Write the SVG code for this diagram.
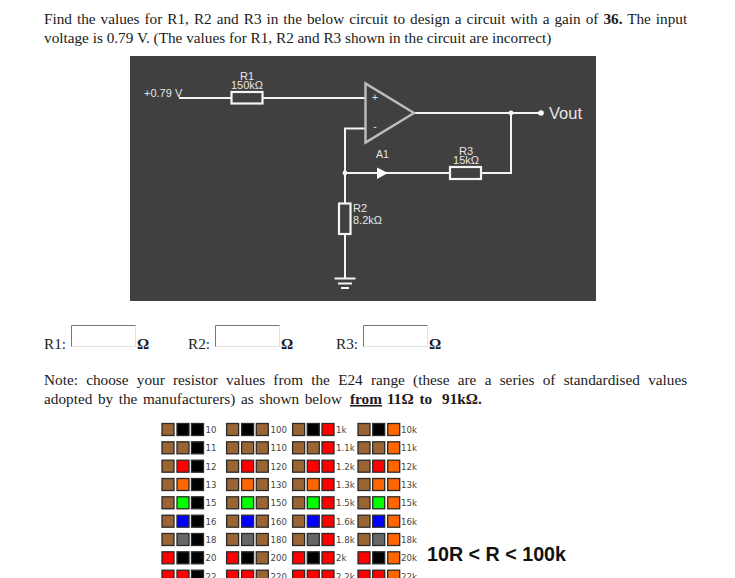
<svg xmlns="http://www.w3.org/2000/svg" width="735" height="578" viewBox="0 0 735 578">
<style>
.t{font-family:"Liberation Serif",serif;font-size:15.25px;fill:#1a1a1a}
.c{font-family:"Liberation Sans",Arial,sans-serif;fill:#e6e6e6}
.w{fill:none;stroke:#f4f4f4;stroke-width:2}
.r{fill:#404040;stroke:#f4f4f4;stroke-width:2.200}
.i{fill:#fff;stroke:#e2e2e2;stroke-width:1}
.k{fill:#000}.n{fill:#9a6433}.d{fill:#f00}.o{fill:#f60}.g{fill:#0f0}.b{fill:#00f}.y{fill:#666}
.l{font-family:"DejaVu Sans",sans-serif;font-size:8.600px;fill:#444}
</style>
<defs>
<rect id="s" width="12" height="12" stroke="#2a2a2a" stroke-width="1.300"/>
</defs>
<rect width="735" height="578" fill="#fff"/>
<g id="question">
<text class="t" x="44" y="24" word-spacing="1.180">Find the values for R1, R2 and R3 in the below circuit to design a circuit with a gain of <tspan font-weight="bold">36.</tspan> The input</text>
<text class="t" x="44" y="43">voltage is 0.79 V. (The values for R1, R2 and R3 shown in the circuit are incorrect)</text>
</g>
<rect x="130" y="56" width="466" height="245" fill="#404040"/>
<g id="connectors">
<path class="w" d="M179 98H231M262 98H365"/>
<path class="w" d="M345 203V128.500H365"/>
<path class="w" d="M345 173H450M481 173H511V113"/>
<path class="w" d="M415 113H541"/>
<path class="w" d="M345 173V203M345 234V278"/>
</g>
<g id="opamp">
<path d="M365.500 83.500V142.500L414 113Z" fill="#404040" stroke="#bdbdbd" stroke-width="2.400"/>
<text class="c" x="375" y="101" font-size="10" text-anchor="middle" fill="#bbb">+</text>
<text class="c" x="375" y="130" font-size="10" text-anchor="middle" fill="#bbb">-</text>
<text class="c" x="382.500" y="158" font-size="10.500" text-anchor="middle">A1</text>
<path d="M377 167.500L388 173L377 179Z" fill="#fff"/>
</g>
<g id="input"><text class="c" x="144" y="97" font-size="11">+0.79 V</text></g>
<g id="r1"><rect class="r" x="231.500" y="92" width="31" height="11.500"/><text class="c" x="247" y="79.500" font-size="11" text-anchor="middle">R1</text><text class="c" x="247" y="89" font-size="11" text-anchor="middle">150kΩ</text></g>
<g id="r2"><rect class="r" x="339" y="203.500" width="11.500" height="30.500"/><text class="c" x="353" y="212" font-size="11">R2</text><text class="c" x="353" y="224" font-size="11">8.2kΩ</text></g>
<g id="r3"><rect class="r" x="450" y="167" width="31" height="12"/><text class="c" x="466" y="154.500" font-size="11" text-anchor="middle">R3</text><text class="c" x="466" y="164" font-size="11" text-anchor="middle">15kΩ</text></g>
<g id="vout"><circle cx="541" cy="113" r="2.800" fill="#fff"/><circle cx="511" cy="113" r="2.400" fill="#f4f4f4"/><text class="c" x="549" y="118.500" font-size="16.500" fill="#d0d0d0">Vout</text></g>
<circle cx="345" cy="173" r="2.400" fill="#f4f4f4"/>
<g id="ground"><path class="w" d="M334.500 278.500H355.500M338 283.500H352M341 288H349"/></g>
<g id="answers">
<text class="t" x="44" y="349">R1:</text><rect class="i" x="71.500" y="325.500" width="64" height="21"/><path d="M71.500 346.500V325.500H135.500" fill="none" stroke="#777"/><text class="t" x="137" y="349" font-weight="bold">Ω</text>
<text class="t" x="188" y="349">R2:</text><rect class="i" x="215.500" y="325.500" width="64" height="21"/><path d="M215.500 346.500V325.500H279.500" fill="none" stroke="#777"/><text class="t" x="281" y="349" font-weight="bold">Ω</text>
<text class="t" x="336" y="349">R3:</text><rect class="i" x="363.500" y="325.500" width="64" height="21"/><path d="M363.500 346.500V325.500H427.500" fill="none" stroke="#777"/><text class="t" x="429" y="349" font-weight="bold">Ω</text>
</g>
<g id="note">
<text class="t" x="44" y="385" word-spacing="4.450">Note: choose your resistor values from the E24 range (these are a series of standardised values</text>
<text class="t" x="44" y="404" word-spacing="1.800">adopted by the manufacturers) as shown below</text>
<text class="t" x="350" y="404" font-weight="bold" text-decoration="underline">from</text>
<text class="t" x="387" y="404" font-weight="bold" word-spacing="2">11Ω to</text>
<text class="t" x="442" y="404" font-weight="bold">91kΩ.</text>
</g>
<g id="table">
<g transform="translate(162 423.500)">
<use href="#s" class="n"/><use href="#s" x="15" class="k"/><use href="#s" x="29.500" class="k"/><text class="l" x="43.500" y="9.500">10</text>
<use href="#s" y="18.300" class="n"/><use href="#s" x="15" y="18.300" class="n"/><use href="#s" x="29.500" y="18.300" class="k"/><text class="l" x="43.500" y="27.800">11</text>
<use href="#s" y="36.700" class="n"/><use href="#s" x="15" y="36.700" class="d"/><use href="#s" x="29.500" y="36.700" class="k"/><text class="l" x="43.500" y="46.200">12</text>
<use href="#s" y="55" class="n"/><use href="#s" x="15" y="55" class="o"/><use href="#s" x="29.500" y="55" class="k"/><text class="l" x="43.500" y="64.500">13</text>
<use href="#s" y="73.300" class="n"/><use href="#s" x="15" y="73.300" class="g"/><use href="#s" x="29.500" y="73.300" class="k"/><text class="l" x="43.500" y="82.800">15</text>
<use href="#s" y="91.700" class="n"/><use href="#s" x="15" y="91.700" class="b"/><use href="#s" x="29.500" y="91.700" class="k"/><text class="l" x="43.500" y="101.200">16</text>
<use href="#s" y="110" class="n"/><use href="#s" x="15" y="110" class="y"/><use href="#s" x="29.500" y="110" class="k"/><text class="l" x="43.500" y="119.500">18</text>
<use href="#s" y="128.300" class="d"/><use href="#s" x="15" y="128.300" class="k"/><use href="#s" x="29.500" y="128.300" class="k"/><text class="l" x="43.500" y="137.800">20</text>
<use href="#s" y="146.700" class="d"/><use href="#s" x="15" y="146.700" class="d"/><use href="#s" x="29.500" y="146.700" class="k"/><text class="l" x="43.500" y="156.200">22</text>
</g>
<g transform="translate(226.600 423.500)">
<use href="#s" class="n"/><use href="#s" x="15" class="k"/><use href="#s" x="29.700" class="n"/><text class="l" x="44" y="9.500">100</text>
<use href="#s" y="18.300" class="n"/><use href="#s" x="15" y="18.300" class="n"/><use href="#s" x="29.700" y="18.300" class="n"/><text class="l" x="44" y="27.800">110</text>
<use href="#s" y="36.700" class="n"/><use href="#s" x="15" y="36.700" class="d"/><use href="#s" x="29.700" y="36.700" class="n"/><text class="l" x="44" y="46.200">120</text>
<use href="#s" y="55" class="n"/><use href="#s" x="15" y="55" class="o"/><use href="#s" x="29.700" y="55" class="n"/><text class="l" x="44" y="64.500">130</text>
<use href="#s" y="73.300" class="n"/><use href="#s" x="15" y="73.300" class="g"/><use href="#s" x="29.700" y="73.300" class="n"/><text class="l" x="44" y="82.800">150</text>
<use href="#s" y="91.700" class="n"/><use href="#s" x="15" y="91.700" class="b"/><use href="#s" x="29.700" y="91.700" class="n"/><text class="l" x="44" y="101.200">160</text>
<use href="#s" y="110" class="n"/><use href="#s" x="15" y="110" class="y"/><use href="#s" x="29.700" y="110" class="n"/><text class="l" x="44" y="119.500">180</text>
<use href="#s" y="128.300" class="d"/><use href="#s" x="15" y="128.300" class="k"/><use href="#s" x="29.700" y="128.300" class="n"/><text class="l" x="44" y="137.800">200</text>
<use href="#s" y="146.700" class="d"/><use href="#s" x="15" y="146.700" class="d"/><use href="#s" x="29.700" y="146.700" class="n"/><text class="l" x="44" y="156.200">220</text>
</g>
<g transform="translate(292.600 423.500)">
<use href="#s" class="n"/><use href="#s" x="14.700" class="k"/><use href="#s" x="29.400" class="d"/><text class="l" x="43.400" y="9.500">1k</text>
<use href="#s" y="18.300" class="n"/><use href="#s" x="14.700" y="18.300" class="n"/><use href="#s" x="29.400" y="18.300" class="d"/><text class="l" x="43.400" y="27.800">1.1k</text>
<use href="#s" y="36.700" class="n"/><use href="#s" x="14.700" y="36.700" class="d"/><use href="#s" x="29.400" y="36.700" class="d"/><text class="l" x="43.400" y="46.200">1.2k</text>
<use href="#s" y="55" class="n"/><use href="#s" x="14.700" y="55" class="o"/><use href="#s" x="29.400" y="55" class="d"/><text class="l" x="43.400" y="64.500">1.3k</text>
<use href="#s" y="73.300" class="n"/><use href="#s" x="14.700" y="73.300" class="g"/><use href="#s" x="29.400" y="73.300" class="d"/><text class="l" x="43.400" y="82.800">1.5k</text>
<use href="#s" y="91.700" class="n"/><use href="#s" x="14.700" y="91.700" class="b"/><use href="#s" x="29.400" y="91.700" class="d"/><text class="l" x="43.400" y="101.200">1.6k</text>
<use href="#s" y="110" class="n"/><use href="#s" x="14.700" y="110" class="y"/><use href="#s" x="29.400" y="110" class="d"/><text class="l" x="43.400" y="119.500">1.8k</text>
<use href="#s" y="128.300" class="d"/><use href="#s" x="14.700" y="128.300" class="k"/><use href="#s" x="29.400" y="128.300" class="d"/><text class="l" x="43.400" y="137.800">2k</text>
<use href="#s" y="146.700" class="d"/><use href="#s" x="14.700" y="146.700" class="d"/><use href="#s" x="29.400" y="146.700" class="d"/><text class="l" x="43.400" y="156.200">2.2k</text>
</g>
<g transform="translate(358 423.500)">
<use href="#s" class="n"/><use href="#s" x="14.700" class="k"/><use href="#s" x="29.700" class="o"/><text class="l" x="43" y="9.500">10k</text>
<use href="#s" y="18.300" class="n"/><use href="#s" x="14.700" y="18.300" class="n"/><use href="#s" x="29.700" y="18.300" class="o"/><text class="l" x="43" y="27.800">11k</text>
<use href="#s" y="36.700" class="n"/><use href="#s" x="14.700" y="36.700" class="d"/><use href="#s" x="29.700" y="36.700" class="o"/><text class="l" x="43" y="46.200">12k</text>
<use href="#s" y="55" class="n"/><use href="#s" x="14.700" y="55" class="o"/><use href="#s" x="29.700" y="55" class="o"/><text class="l" x="43" y="64.500">13k</text>
<use href="#s" y="73.300" class="n"/><use href="#s" x="14.700" y="73.300" class="g"/><use href="#s" x="29.700" y="73.300" class="o"/><text class="l" x="43" y="82.800">15k</text>
<use href="#s" y="91.700" class="n"/><use href="#s" x="14.700" y="91.700" class="b"/><use href="#s" x="29.700" y="91.700" class="o"/><text class="l" x="43" y="101.200">16k</text>
<use href="#s" y="110" class="n"/><use href="#s" x="14.700" y="110" class="y"/><use href="#s" x="29.700" y="110" class="o"/><text class="l" x="43" y="119.500">18k</text>
<use href="#s" y="128.300" class="d"/><use href="#s" x="14.700" y="128.300" class="k"/><use href="#s" x="29.700" y="128.300" class="o"/><text class="l" x="43" y="137.800">20k</text>
<use href="#s" y="146.700" class="d"/><use href="#s" x="14.700" y="146.700" class="d"/><use href="#s" x="29.700" y="146.700" class="o"/><text class="l" x="43" y="156.200">22k</text>
</g>
<text x="427" y="561" font-family="Liberation Sans,Arial,sans-serif" font-weight="bold" font-size="19.700" fill="#111">10R &lt; R &lt; 100k</text>
</g>
</svg>
